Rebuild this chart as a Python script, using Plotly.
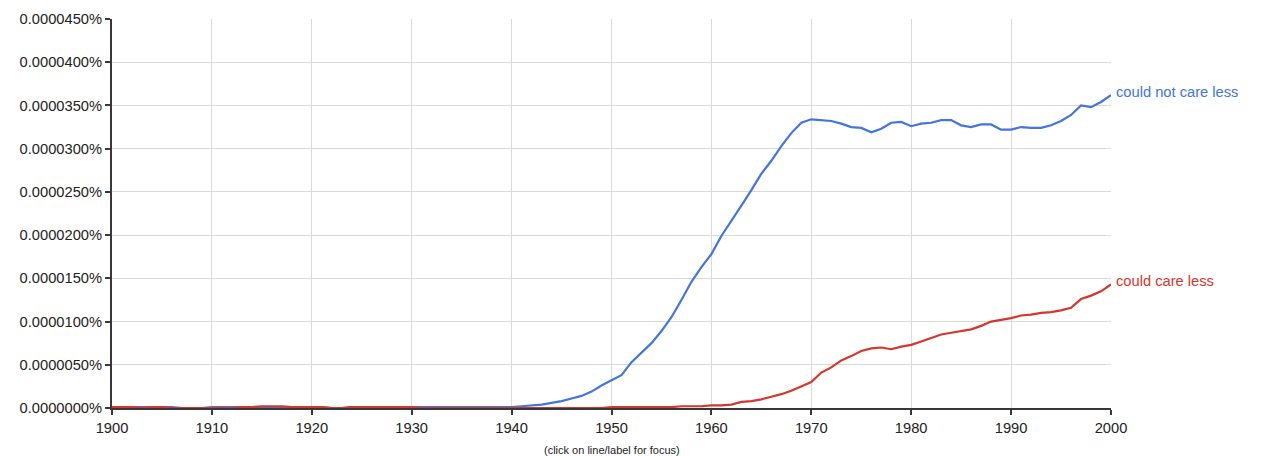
"""Ngram-style line chart: 'could not care less' vs 'could care less'."""

import plotly.graph_objects as go

years = list(range(1900, 2001))

# Frequencies in percent, one value per year 1900-2000
could_not_care_less = [
    0.0000001, 0.0000001, 0.0000001, 0.0000001, 0.0000001, 0.0000001, 0.0000001, 0.0000000, 0.0000000, 0.0000000,
    0.0000001, 0.0000001, 0.0000001, 0.0000001, 0.0000001, 0.0000001, 0.0000001, 0.0000001, 0.0000001, 0.0000001,
    0.0000001, 0.0000001, 0.0000000, 0.0000000, 0.0000001, 0.0000001, 0.0000001, 0.0000001, 0.0000001, 0.0000001,
    0.0000001, 0.0000001, 0.0000001, 0.0000001, 0.0000001, 0.0000001, 0.0000001, 0.0000001, 0.0000001, 0.0000001,
    0.0000001, 0.0000002, 0.0000003, 0.0000004, 0.0000006, 0.0000008, 0.0000011, 0.0000014, 0.0000019, 0.0000026,
    0.0000032, 0.0000038, 0.0000053, 0.0000064, 0.0000075, 0.0000089, 0.0000105, 0.0000125, 0.0000146, 0.0000163,
    0.0000178, 0.0000199, 0.0000216, 0.0000234, 0.0000252, 0.0000271, 0.0000286, 0.0000303, 0.0000318, 0.0000330,
    0.0000334, 0.0000333, 0.0000332, 0.0000329, 0.0000325, 0.0000324, 0.0000319, 0.0000323, 0.0000330, 0.0000331,
    0.0000326, 0.0000329, 0.0000330, 0.0000333, 0.0000333, 0.0000327, 0.0000325, 0.0000328, 0.0000328, 0.0000322,
    0.0000322, 0.0000325, 0.0000324, 0.0000324, 0.0000327, 0.0000332, 0.0000339, 0.0000350, 0.0000348, 0.0000354,
    0.0000362,
]

could_care_less = [
    0.0000001, 0.0000001, 0.0000001, 0.0000000, 0.0000001, 0.0000001, 0.0000000, 0.0000000, 0.0000000, 0.0000000,
    0.0000000, 0.0000000, 0.0000000, 0.0000001, 0.0000001, 0.0000002, 0.0000002, 0.0000002, 0.0000001, 0.0000001,
    0.0000001, 0.0000001, 0.0000000, 0.0000000, 0.0000001, 0.0000001, 0.0000001, 0.0000001, 0.0000001, 0.0000001,
    0.0000001, 0.0000000, 0.0000000, 0.0000000, 0.0000000, 0.0000000, 0.0000000, 0.0000000, 0.0000000, 0.0000000,
    0.0000000, 0.0000000, 0.0000000, 0.0000000, 0.0000000, 0.0000000, 0.0000000, 0.0000000, 0.0000000, 0.0000000,
    0.0000001, 0.0000001, 0.0000001, 0.0000001, 0.0000001, 0.0000001, 0.0000001, 0.0000002, 0.0000002, 0.0000002,
    0.0000003, 0.0000003, 0.0000004, 0.0000007, 0.0000008, 0.0000010, 0.0000013, 0.0000016, 0.0000020, 0.0000025,
    0.0000030, 0.0000041, 0.0000047, 0.0000055, 0.0000060, 0.0000066, 0.0000069, 0.0000070, 0.0000068, 0.0000071,
    0.0000073, 0.0000077, 0.0000081, 0.0000085, 0.0000087, 0.0000089, 0.0000091, 0.0000095, 0.0000100, 0.0000102,
    0.0000104, 0.0000107, 0.0000108, 0.0000110, 0.0000111, 0.0000113, 0.0000116, 0.0000126, 0.0000130, 0.0000135,
    0.0000143,
]

y_ticks = [i * 0.0000050 for i in range(10)]
y_tick_labels = [f"{v:.7f}%" for v in y_ticks]
x_ticks = list(range(1900, 2001, 10))

series = [
    ("could not care less", could_not_care_less, "#4375dd"),
    ("could care less", could_care_less, "#d6362c"),
]

fig = go.Figure()

for name, values, color in series:
    fig.add_trace(
        go.Scatter(
            x=years,
            y=values,
            mode="lines",
            name=name,
            line=dict(color=color, width=2.2),
            hovertemplate="%{x}: %{y:.7f}%<extra>" + name + "</extra>",
        )
    )
    # Label at the end of each line
    fig.add_annotation(
        x=years[-1],
        y=values[-1],
        text=name,
        showarrow=False,
        xanchor="left",
        yanchor="middle",
        xshift=3,
        yshift=3,
        font=dict(color=color, size=14.7),
    )

fig.add_annotation(
    x=0.5,
    y=0,
    xref="paper",
    yref="paper",
    yanchor="middle",
    yshift=-42,
    text="(click on line/label for focus)",
    showarrow=False,
    font=dict(size=11, color="#222"),
)

axis_style = dict(
    showgrid=True,
    gridcolor="#dadada",
    gridwidth=1,
    showline=True,
    linecolor="#383838",
    linewidth=2,
    ticks="outside",
    ticklen=5,
    tickwidth=2,
    tickcolor="#383838",
    zeroline=False,
    automargin=False,
)

# Page body has an 8px margin, so the figure is offset by it
fig.update_layout(
    width=1247,
    height=448,
    margin=dict(l=104, r=144, t=11, b=48),
    plot_bgcolor="white",
    paper_bgcolor="white",
    showlegend=False,
    font=dict(family="Liberation Sans, Arial, Helvetica, sans-serif", size=14.7, color="#222"),
    xaxis=dict(range=[1900, 2000], tickvals=x_ticks, **axis_style),
    yaxis=dict(
        range=[0, 0.0000450],
        tickvals=y_ticks,
        ticktext=y_tick_labels,
        **axis_style,
    ),
)

fig.write_html("out.html")
